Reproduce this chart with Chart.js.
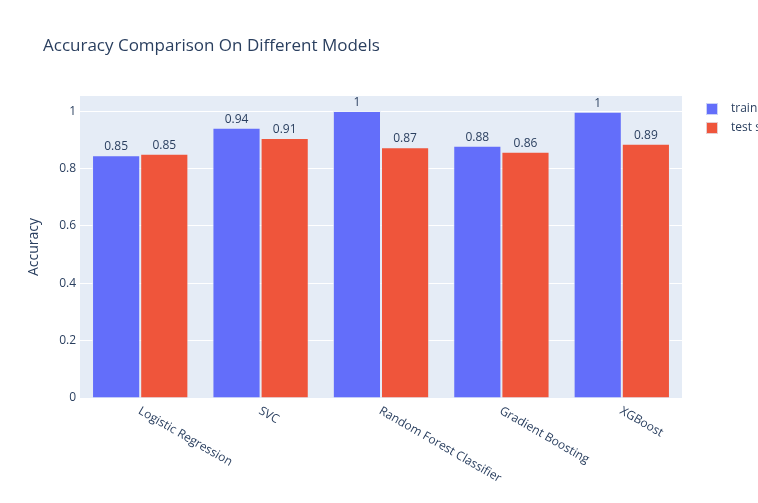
<!DOCTYPE html>
<html>
<head>
<meta charset="utf-8">
<script src="https://cdn.jsdelivr.net/npm/chart.js@4.4.1/dist/chart.umd.min.js"></script>
<style>
  html, body { margin: 0; padding: 0; background: #fff; }
  #wrap { width: 758px; height: 503px; position: relative; }
</style>
</head>
<body>
<div id="wrap"><canvas id="accuracy"></canvas></div>
<script>
var models = ['Logistic Regression', 'SVC', 'Random Forest Classifier', 'Gradient Boosting', 'XGBoost'];
var trainScores = [0.846, 0.942, 1.0, 0.879, 0.998];
var testScores = [0.851, 0.906, 0.874, 0.858, 0.886];
var yTicks = [0, 0.2, 0.4, 0.6, 0.8, 1];
var seriesNames = ['train score', 'test score'];

var fontFamily = '"Open Sans", verdana, arial, sans-serif';
var textColor = '#2a3f5f';

var plotBackground = {
  id: 'plotBackground',
  beforeDraw: function(chart) {
    var a = chart.chartArea;
    var ctx = chart.ctx;
    ctx.save();
    ctx.fillStyle = '#E5ECF6';
    ctx.fillRect(a.left, a.top, a.right - a.left, a.bottom - a.top);
    ctx.restore();
  }
};

var extras = {
  id: 'extras',
  afterDraw: function(chart) {
    var ctx = chart.ctx;
    ctx.save();
    ctx.fillStyle = textColor;

    // title
    ctx.font = '17px ' + fontFamily;
    ctx.textAlign = 'left';
    ctx.textBaseline = 'alphabetic';
    ctx.fillText('Accuracy Comparison On Different Models', 43, 51);

    // value labels above bars
    ctx.font = '12px ' + fontFamily;
    ctx.textAlign = 'center';
    chart.data.datasets.forEach(function(ds, i) {
      chart.getDatasetMeta(i).data.forEach(function(bar, j) {
        var v = Math.round(ds.data[j] * 100) / 100;
        ctx.fillText(String(v), bar.x, bar.y - 5);
      });
    });

    // rotated category labels
    var xs = chart.scales.x;
    ctx.textAlign = 'left';
    ctx.textBaseline = 'middle';
    models.forEach(function(name, j) {
      ctx.save();
      ctx.translate(xs.getPixelForValue(j) - 1, 410);
      ctx.rotate(Math.PI / 6);
      ctx.fillText(name, 0, 0);
      ctx.restore();
    });

    // legend
    chart.data.datasets.forEach(function(ds, i) {
      var y = 103 + i * 19;
      ctx.fillStyle = ds.backgroundColor;
      ctx.fillRect(706, y, 12, 12);
      ctx.strokeStyle = 'rgba(229,236,246,0.8)';
      ctx.lineWidth = 1;
      ctx.strokeRect(706.5, y + 0.5, 11, 11);
      ctx.fillStyle = textColor;
      ctx.textAlign = 'left';
      ctx.textBaseline = 'middle';
      ctx.fillText(ds.label, 731, y + 6);
    });
    ctx.restore();
  }
};

var ctx = document.getElementById('accuracy').getContext('2d');
var config = {
  type: 'bar',
  data: {
    labels: models,
    datasets: [{
      label: seriesNames[0],
      backgroundColor: '#636EFA',
      borderColor: 'rgba(229,236,246,0.7)',
      borderWidth: 1,
      data: trainScores
    }, {
      label: seriesNames[1],
      backgroundColor: '#EF553B',
      borderColor: 'rgba(229,236,246,0.7)',
      borderWidth: 1,
      data: testScores
    }]
  },
  options: {
    responsive: true,
    maintainAspectRatio: false,
    animation: false,
    layout: { padding: { left: 0, top: 96, right: 76, bottom: 0 } },
    datasets: { bar: { categoryPercentage: 0.8, barPercentage: 1.0 } },
    plugins: {
      legend: { display: false },
      tooltip: { enabled: false }
    },
    scales: {
      x: {
        grid: { display: false },
        border: { display: false },
        ticks: { display: false },
        afterFit: function(s) { s.height = 105; }
      },
      y: {
        min: 0,
        max: 1.0526,
        afterBuildTicks: function(s) {
          s.ticks = yTicks.map(function(v) { return { value: v }; });
        },
        ticks: {
          padding: 4,
          color: textColor,
          font: { family: fontFamily, size: 12 },
          callback: function(v) { return String(Math.round(v * 10) / 10); }
        },
        grid: { color: '#ffffff', lineWidth: 1, drawTicks: false },
        border: { display: false },
        title: {
          display: true,
          text: 'Accuracy',
          color: textColor,
          font: { family: fontFamily, size: 14 },
          padding: { top: 26, bottom: 0 }
        },
        afterFit: function(s) { s.width = 80; }
      }
    }
  },
  plugins: [plotBackground, extras]
};

var myChart = new Chart(ctx, config);
</script>
</body>
</html>
